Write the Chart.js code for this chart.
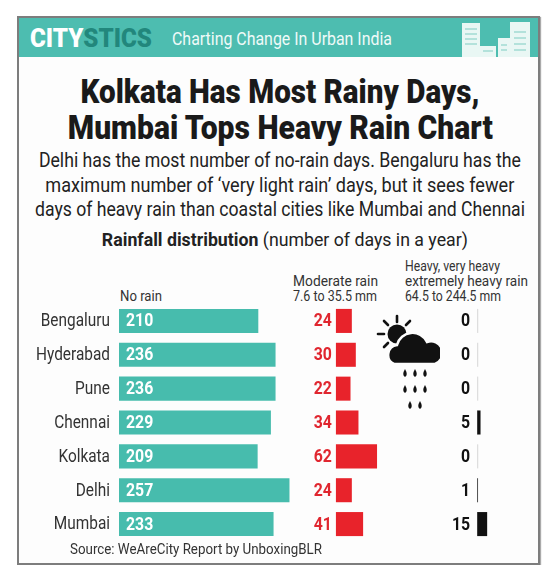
<!DOCTYPE html>
<html>
<head>
<meta charset="utf-8">
<script src="https://cdn.jsdelivr.net/npm/chart.js@4.4.1/dist/chart.umd.min.js"></script>
<style>
  body { margin: 0; background: #fff; }
  #page { position: relative; width: 545px; height: 565px; overflow: hidden; font-family: Roboto, 'Liberation Sans', sans-serif; color: #222; }
  .abs { position: absolute; white-space: nowrap; }
  #frame { left: 17px; top: 16px; width: 519px; height: 545px; border: 2px solid #7d7d7d; background: #fdfdfd; box-shadow: 1px 1px 1px #aaa; }
  #band { left: 19px; top: 18px; width: 519px; height: 39px; background: #4dbdb0; }
  #brand { left: 30px; top: 22px; font-size: 26px; font-weight: 900; line-height: 32px; }
  #brand span { transform-origin: left center; }
  #brand .a { color: #fff; }
  #brand .b { color: #22877c; }
  #tag { left: 172px; top: 27px; font-size: 19px; line-height: 24px; color: #effaf8; }
  #tag span { transform-origin: left center; }
  .centre { left: -120px; width: 800px; text-align: center; }
  #title { top: 73px; font-size: 34px; font-weight: 900; line-height: 36px; color: #1a1a1a; }
  #sub { top: 149px; font-size: 19.5px; line-height: 24.5px; color: #222; }
  #dist { top: 229px; font-size: 18px; line-height: 22px; color: #222; }
  .hdr { font-size: 14px; line-height: 15px; color: #333; }
  .hdr span { transform-origin: left center; }
  #src { left: 70px; top: 540px; font-size: 15px; color: #333; }
  #src span { transform-origin: left center; }
  #chartBox { left: 17px; top: 300px; width: 520px; height: 245px; }
</style>
</head>
<body>
<div id="page">
  <div id="frame" class="abs"></div>
  <div id="band" class="abs"></div>
  <div id="brand" class="abs"><span data-w="122"><span class="a">CITY</span><span class="b">STICS</span></span></div>
  <div id="tag" class="abs"><span data-w="220">Charting Change In Urban India</span></div>
  <svg class="abs" style="left:458px;top:20px" width="76" height="38" viewBox="0 0 76 38">
    <g fill="#e9f7f4">
      <rect x="4" y="3" width="18" height="34"/>
      <rect x="22" y="26" width="16" height="11"/>
      <rect x="40" y="18" width="12" height="19"/>
      <rect x="52" y="2" width="20" height="35"/>
    </g>
    <g stroke="#8fd3ca" stroke-width="1.2">
      <line x1="7" y1="9" x2="19" y2="9"/><line x1="7" y1="14" x2="19" y2="14"/>
      <line x1="7" y1="19" x2="19" y2="19"/><line x1="7" y1="24" x2="19" y2="24"/>
      <line x1="25" y1="31" x2="35" y2="31"/>
      <line x1="43" y1="25" x2="49" y2="25"/><line x1="43" y1="30" x2="49" y2="30"/>
      <line x1="56" y1="12" x2="68" y2="12"/><line x1="56" y1="18" x2="68" y2="18"/>
      <line x1="56" y1="24" x2="68" y2="24"/><line x1="56" y1="30" x2="68" y2="30"/>
    </g>
  </svg>
  <div id="title" class="abs centre"><span data-w="399">Kolkata Has Most Rainy Days,</span><br><span data-w="425">Mumbai Tops Heavy Rain Chart</span></div>
  <div id="sub" class="abs centre"><span data-w="482">Delhi has the most number of no-rain days. Bengaluru has the</span><br><span data-w="469">maximum number of ‘very light rain’ days, but it sees fewer</span><br><span data-w="490">days of heavy rain than coastal cities like Mumbai and Chennai</span></div>
  <div id="dist" class="abs centre" style="left:-115px"><span data-w="366"><b>Rainfall distribution</b> (number of days in a year)</span></div>
  <div class="abs hdr" style="left:120px;top:289px"><span data-w="42">No rain</span></div>
  <div class="abs hdr" style="left:293px;top:274px"><span data-w="85">Moderate rain</span><br><span data-w="84">7.6 to 35.5 mm</span></div>
  <div class="abs hdr" style="left:405px;top:259px"><span data-w="95">Heavy, very heavy</span><br><span data-w="123">extremely heavy rain</span><br><span data-w="96">64.5 to 244.5 mm</span></div>
  <div id="chartBox" class="abs"><canvas id="rainChart" width="520" height="245"></canvas></div>
  <svg class="abs" style="left:376px;top:314px" width="64" height="100" viewBox="0 0 64 100">
    <g stroke="#111" stroke-width="2.6" stroke-linecap="round">
      <line x1="21" y1="2" x2="21" y2="8"/>
      <line x1="8" y1="7" x2="12" y2="11"/>
      <line x1="2" y1="20" x2="8" y2="20"/>
      <line x1="8" y1="33" x2="12" y2="29"/>
      <line x1="34" y1="7" x2="30" y2="11"/>
    </g>
    <circle cx="21" cy="20" r="9.5" fill="#111"/>
    <path d="M18 50 a10 10 0 0 1 3 -19 a16 16 0 0 1 30 -3 a11 11 0 0 1 8 22 z" fill="#111" stroke="#fdfdfd" stroke-width="2.5"/>
    <g fill="#111">
      <path d="M29 55 q-3.5 6 0 8 q3.5 -2 0 -8z"/>
      <path d="M39 55 q-3.5 6 0 8 q3.5 -2 0 -8z"/>
      <path d="M49 55 q-3.5 6 0 8 q3.5 -2 0 -8z"/>
      <path d="M29 71 q-3.5 6 0 8 q3.5 -2 0 -8z"/>
      <path d="M39 71 q-3.5 6 0 8 q3.5 -2 0 -8z"/>
      <path d="M49 71 q-3.5 6 0 8 q3.5 -2 0 -8z"/>
      <path d="M34 87 q-3.5 6 0 8 q3.5 -2 0 -8z"/>
      <path d="M44 87 q-3.5 6 0 8 q3.5 -2 0 -8z"/>
    </g>
  </svg>
  <div id="src" class="abs"><span data-w="252">Source: WeAreCity Report by UnboxingBLR</span></div>
</div>
<script>
const cities = ['Bengaluru', 'Hyderabad', 'Pune', 'Chennai', 'Kolkata', 'Delhi', 'Mumbai'];
const noRain = [210, 236, 236, 229, 209, 257, 233];
const moderateRain = [24, 30, 22, 34, 62, 24, 41];
const heavyRain = [0, 0, 0, 5, 0, 1, 15];

const FONT = 'Roboto, sans-serif';
const TEAL = '#47bcad';
const RED = '#e8232b';
const SQUEEZE = 0.88; // the original uses a condensed face

// squeeze html text lines to the widths they have in the print
document.querySelectorAll('[data-w]').forEach(function(el) {
    el.style.display = 'inline-block';
    const natural = el.getBoundingClientRect().width;
    el.style.transform = 'scaleX(' + (el.dataset.w / natural) + ')';
});

function narrowText(ctx, text, x, y) {
    ctx.save();
    ctx.translate(x, y);
    ctx.scale(SQUEEZE, 1);
    ctx.fillText(text, 0, 0);
    ctx.restore();
}

const rowLabels = {
    id: 'rowLabels',
    beforeDatasetsDraw(chart) {
        const ctx = chart.ctx;
        const yScale = chart.scales.y;
        ctx.save();
        // city names
        ctx.font = '17.5px ' + FONT;
        ctx.fillStyle = '#333';
        ctx.textAlign = 'right';
        ctx.textBaseline = 'middle';
        cities.forEach(function(c, i) {
            narrowText(ctx, c, yScale.right - 9, yScale.getPixelForValue(i) + 1);
        });
        // faint zero line in the heavy rain column
        ctx.strokeStyle = '#d6d6d6';
        ctx.lineWidth = 1;
        chart.getDatasetMeta(2).data.forEach(function(bar) {
            ctx.beginPath();
            ctx.moveTo(bar.base + 0.5, bar.y - bar.height / 2);
            ctx.lineTo(bar.base + 0.5, bar.y + bar.height / 2);
            ctx.stroke();
        });
        ctx.restore();
    },
    afterDatasetsDraw(chart) {
        const ctx = chart.ctx;
        ctx.save();
        ctx.font = 'bold 18px ' + FONT;
        ctx.textBaseline = 'middle';
        chart.data.datasets.forEach(function(ds, i) {
            chart.getDatasetMeta(i).data.forEach(function(bar, j) {
                const v = String(ds.data[j]);
                if (i === 0) {
                    ctx.fillStyle = '#fff';
                    ctx.textAlign = 'left';
                    narrowText(ctx, v, bar.base + 7, bar.y + 1);
                } else {
                    ctx.fillStyle = i === 1 ? '#e0262f' : '#111';
                    ctx.textAlign = 'right';
                    narrowText(ctx, v, bar.base - (i === 1 ? 4 : 7), bar.y + 1);
                }
            });
        });
        ctx.restore();
    }
};

// one x scale per column, all with the same pixels per day
new Chart(document.getElementById('rainChart'), {
    type: 'bar',
    data: {
        labels: cities,
        datasets: [
            { label: 'No rain', data: noRain, xAxisID: 'xNo', backgroundColor: TEAL },
            { label: 'Moderate rain', data: moderateRain, xAxisID: 'xMod', backgroundColor: RED },
            { label: 'Heavy rain', data: heavyRain, xAxisID: 'xHeavy', backgroundColor: '#111' }
        ]
    },
    options: {
        indexAxis: 'y',
        responsive: false,
        animation: false,
        layout: { padding: { top: 4, bottom: 4, left: 0, right: 18 } },
        datasets: {
            bar: { grouped: false, barPercentage: 0.71, categoryPercentage: 1 }
        },
        plugins: { legend: { display: false }, tooltip: { enabled: false } },
        scales: {
            y: {
                grid: { display: false },
                border: { display: false },
                ticks: { display: false },
                afterFit: function(scale) { scale.width = 102; }
            },
            xNo: { type: 'linear', position: 'bottom', min: 0, max: 603, display: false },
            xMod: { type: 'linear', position: 'bottom', min: -327, max: 276, display: false },
            xHeavy: { type: 'linear', position: 'bottom', min: -540, max: 63, display: false }
        }
    },
    plugins: [rowLabels]
});
</script>
</body>
</html>
